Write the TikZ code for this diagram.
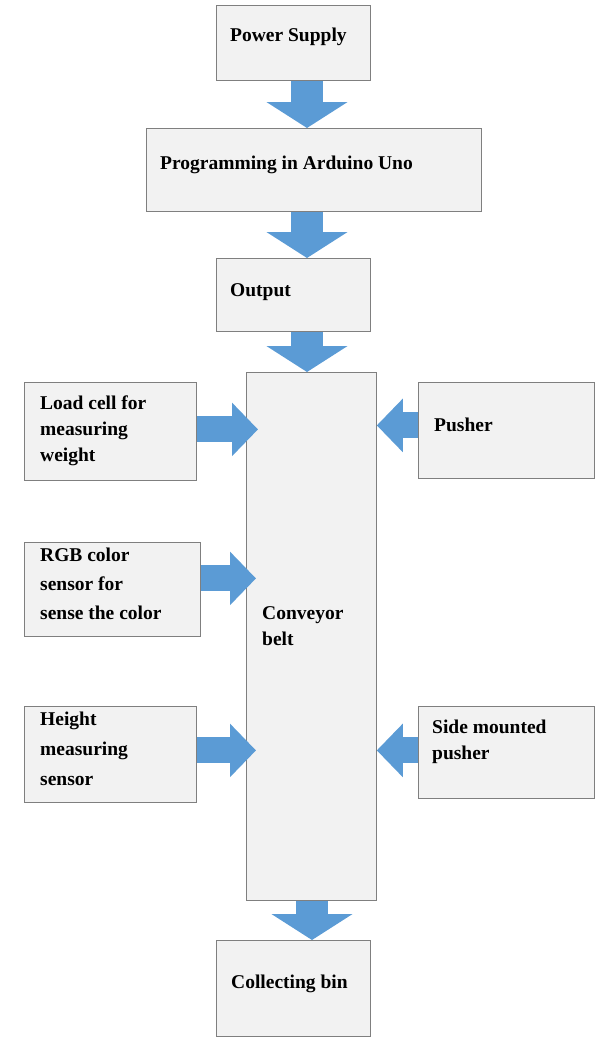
\documentclass[tikz,border=0pt]{standalone}
\usepackage{fontspec}
\setmainfont{Liberation Serif}
\usetikzlibrary{arrows.meta,calc}
\definecolor{boxfill}{HTML}{F2F2F2}
\definecolor{boxdraw}{HTML}{7F7F7F}
\definecolor{arrblue}{HTML}{5B9BD5}
\tikzset{
	blk/.style={draw=boxdraw, fill=boxfill, line width=0.8pt, anchor=north west, inner sep=0pt},
	txt/.style={font=\fontsize{19.5}{26}\selectfont\bfseries, align=left, anchor=base west, inner sep=0pt},
	fat/.style={arrblue, line width=32pt, -{Triangle[length=26pt,width=80pt]}},
	side/.style={arrblue, line width=26pt, -{Triangle[length=26pt,width=52pt]}},
}
\begin{document}
\begin{tikzpicture}[x=1pt,y=-1pt]
	\useasboundingbox (0,0) rectangle (607,1045);
	% boxes
	\node[blk, minimum width=154pt, minimum height=75pt] (ps) at (216,5) {};
	\node[txt] at (230,41) {Power Supply};
	\node[blk, minimum width=335pt, minimum height=83pt] (prog) at (146,128) {};
	\node[txt] at (160,169) {Programming in Arduino Uno};
	\node[blk, minimum width=154pt, minimum height=73pt] (out) at (216,258) {};
	\node[txt] at (230,296) {Output};
	\node[blk, minimum width=130pt, minimum height=528pt] (belt) at (246,372) {};
	\node[txt, anchor=north west] at (262,606) {Conveyor\\belt};
	\node[blk, minimum width=172pt, minimum height=98pt] (load) at (24,382) {};
	\node[txt, anchor=north west] at (40,396) {Load cell for\\measuring\\weight};
	\node[blk, minimum width=176pt, minimum height=94pt] (rgb) at (24,542) {};
	\node[txt, anchor=north west, font=\fontsize{19.5}{29}\selectfont\bfseries] at (40,548) {RGB color\\sensor for\\sense the color};
	\node[blk, minimum width=172pt, minimum height=96pt] (hgt) at (24,706) {};
	\node[txt, anchor=north west, font=\fontsize{19.5}{30}\selectfont\bfseries] at (40,712) {Height\\measuring\\sensor};
	\node[blk, minimum width=176pt, minimum height=96pt] (push) at (418,382) {};
	\node[txt] at (434,431) {Pusher};
	\node[blk, minimum width=176pt, minimum height=92pt] (smp) at (418,706) {};
	\node[txt, anchor=north west] at (432,720) {Side mounted\\pusher};
	\node[blk, minimum width=154pt, minimum height=96pt] (bin) at (216,940) {};
	\node[txt] at (231,988) {Collecting bin};
	% arrows
	\coordinate (c1) at (307,0);
	\coordinate (c2) at (312,0);
	\draw[fat] (ps.south -| c1) -- (prog.north -| c1);
	\draw[fat] (prog.south -| c1) -- (out.north -| c1);
	\draw[fat] (out.south -| c1) -- (belt.north -| c1);
	\draw[fat] (belt.south -| c2) -- (bin.north -| c2);
	\draw[side] ($(load.east)+(0,-2)$) -- ($(load.east -| belt.west)+(12,-2)$);
	\draw[side] ($(rgb.east)+(0,-11)$) -- ($(rgb.east -| belt.west)+(10,-11)$);
	\draw[side] ($(hgt.east)+(0,-4)$) -- ($(hgt.east -| belt.west)+(10,-4)$);
	\draw[side] ($(push.west)+(0,-5)$) -- ($(push.west -| belt.east)+(0,-5)$);
	\draw[side] ($(smp.west)+(0,-2)$) -- ($(smp.west -| belt.east)+(0,-2)$);
\end{tikzpicture}
\end{document}
